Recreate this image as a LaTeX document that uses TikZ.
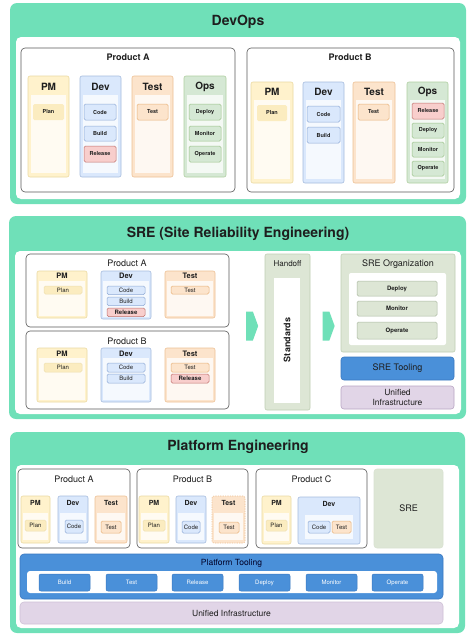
\documentclass[tikz,border=0pt]{standalone}
\usepackage{fontspec}
\setmainfont{TeX Gyre Heros}
\usetikzlibrary{shapes.arrows}
\definecolor{mint}{HTML}{6FE0B8}
\definecolor{pmF}{HTML}{FFF2CC}\definecolor{pmD}{HTML}{E3C97A}
\definecolor{devF}{HTML}{DAE8FC}\definecolor{devD}{HTML}{8FAAD6}
\definecolor{tstF}{HTML}{FCE4CC}\definecolor{tstD}{HTML}{E8B27A}
\definecolor{opsF}{HTML}{D5E8D4}\definecolor{opsD}{HTML}{9CC38A}
\definecolor{relF}{HTML}{F8CECC}\definecolor{relD}{HTML}{C0706C}
\definecolor{sreF}{HTML}{DDE6D5}\definecolor{sreD}{HTML}{BFCFB4}
\definecolor{toolF}{HTML}{4A90D9}\definecolor{toolD}{HTML}{3A78C0}
\definecolor{infF}{HTML}{E1D5E7}\definecolor{infD}{HTML}{B9A5C4}
\definecolor{ink}{HTML}{1E1E1E}
\newcommand\bx[7]{\node[#2,minimum width={(#5)-(#3)},minimum height={(#6)-(#4)}] (#1) at ({((#3)+(#5))/2},{((#4)+(#6))/2}) {#7};}
\newcommand\fs[1]{\fontsize{#1}{#1}\selectfont}
\tikzset{
  base/.style={inner sep=0pt,outer sep=0pt,text=ink,align=center},
  sec/.style={base,fill=mint,rounded corners=7pt},
  wbox/.style={base,fill=white,rounded corners=5pt},
  prod/.style={base,fill=white,draw=black!65,line width=0.6pt,rounded corners=4pt},
  colbox/.style={base,line width=0.6pt,rounded corners=2pt},
  pmcol/.style={colbox,fill=pmF,draw=pmD!70},
  devcol/.style={colbox,fill=devF,draw=devD!80},
  tstcol/.style={colbox,fill=tstF,draw=tstD!80},
  opscol/.style={colbox,fill=opsF,draw=opsD!80},
  colin/.style={base,fill=white,fill opacity=0.75},
  itm/.style={base,line width=0.5pt,rounded corners=1.5pt},
  pmI/.style={itm,fill=pmF!85!pmD,draw=pmD!60},
  devI/.style={itm,fill=devF,draw=devD},
  tstI/.style={itm,fill=tstF,draw=tstD},
  opsI/.style={itm,fill=opsF,draw=opsD},
  relI/.style={itm,fill=relF,draw=relD},
  sreI/.style={itm,fill=sreF,draw=sreD!90!black},
  toolI/.style={itm,fill=toolF,draw=toolD,text=white,rounded corners=2pt},
  secT/.style={base,font=\fs{14}\bfseries},
  hdA/.style={base,font=\fs{10}\bfseries},
  hdB/.style={base,font=\fs{7.5}\bfseries},
  hdC/.style={base,font=\fs{7}\bfseries},
  fA/.style={font=\fs{5.5}\bfseries},
  fB/.style={font=\fs{6}},
  fC/.style={font=\fs{6}},
  blk/.style={base,single arrow,fill=mint,single arrow head extend=0pt,single arrow tip angle=140},
}
\begin{document}
\begin{tikzpicture}[x=1pt,y=-1pt]
\useasboundingbox (0,0) rectangle (474,635);
%%%%%%%%%%%%%%%% DevOps
\bx{s1}{sec}{10}{3}{466}{204}{}
\node[secT] (s1t) at (238,22) {DevOps};
\bx{s1w}{wbox}{16}{37}{460}{199}{}
% Product A
\bx{dA}{prod}{21}{48}{235}{192}{}
\node[base,font=\fs{9}\bfseries] (dAt) at (128,57) {Product A};
\bx{dApm}{pmcol}{28}{76}{69}{177}{}
\bx{dApmw}{colin}{31}{95}{66}{173}{}
\node[hdA] (dApmh) at (48.5,87) {PM};
\bx{dAdev}{devcol}{80}{76}{121}{177}{}
\bx{dAdevw}{colin}{83}{95}{118}{173}{}
\node[hdA] (dAdevh) at (100.5,87) {Dev};
\bx{dAtst}{tstcol}{132}{76}{173}{177}{}
\bx{dAtstw}{colin}{135}{95}{170}{173}{}
\node[hdA] (dAtsth) at (152.5,87) {Test};
\bx{dAops}{opscol}{184}{76}{226}{177}{}
\bx{dAopsw}{colin}{187}{95}{223}{173}{}
\node[hdA] (dAopsh) at (205,87) {Ops};
\bx{dAplan}{pmI,fA,draw=none}{33}{104}{64}{120}{Plan}
\bx{dAcode}{devI,fA}{84}{104}{116}{120}{Code}
\bx{dAbuild}{devI,fA}{84}{126}{116}{141}{Build}
\bx{dArel}{relI,fA}{84}{146}{116}{162}{Release}
\bx{dAtest}{tstI,fA}{137}{104}{168}{120}{Test}
\bx{dAdep}{opsI,fA}{189}{104}{221}{120}{Deploy}
\bx{dAmon}{opsI,fA}{189}{126}{221}{141}{Monitor}
\bx{dAope}{opsI,fA}{189}{146}{221}{162}{Operate}
% Product B
\bx{dB}{prod}{247}{48}{454}{192}{}
\node[base,font=\fs{9}\bfseries] (dBt) at (350,57) {Product B};
\bx{dBpm}{pmcol}{251}{82}{293}{183}{}
\bx{dBpmw}{colin}{254}{100}{290}{179}{}
\node[hdA] (dBpmh) at (272,92) {PM};
\bx{dBdev}{devcol}{303}{82}{344}{183}{}
\bx{dBdevw}{colin}{306}{100}{341}{179}{}
\node[hdA] (dBdevh) at (323.5,92) {Dev};
\bx{dBtst}{tstcol}{353}{82}{395}{183}{}
\bx{dBtstw}{colin}{356}{100}{392}{179}{}
\node[hdA] (dBtsth) at (374,92) {Test};
\bx{dBops}{opscol}{407}{82}{448}{183}{}
\bx{dBopsw}{colin}{410}{100}{445}{179}{}
\node[hdA] (dBopsh) at (427.5,92) {Ops};
\bx{dBplan}{pmI,fA,draw=none}{257}{105}{287}{121}{Plan}
\bx{dBcode}{devI,fA}{307}{106}{340}{122}{Code}
\bx{dBbuild}{devI,fA}{307}{127}{340}{143}{Build}
\bx{dBtest}{tstI,fA}{358}{104}{389}{120}{Test}
\bx{dBrel}{relI,fA}{412}{103}{444}{119}{Release}
\bx{dBdep}{opsI,fA}{412}{123}{444}{138}{Deploy}
\bx{dBmon}{opsI,fA}{412}{142}{444}{157}{Monitor}
\bx{dBope}{opsI,fA}{412}{161}{444}{176}{Operate}
%%%%%%%%%%%%%%%% SRE
\bx{s2}{sec}{9}{216}{466}{419}{}
\node[secT] (s2t) at (238,234) {SRE (Site Reliability Engineering)};
\bx{s2w}{wbox}{15}{251}{461}{414}{}
% Product A
\bx{rA}{prod}{26}{254}{229}{327}{}
\node[base,font=\fs{9}] (rAt) at (127,263) {Product A};
\bx{rApm}{pmcol}{37}{271}{87}{318}{}
\bx{rApmw}{colin}{39}{281}{85}{316}{}
\node[hdB] (rApmh) at (62,276) {PM};
\bx{rAdev}{devcol}{101}{271}{151}{319}{}
\bx{rAdevw}{colin}{103}{281}{149}{317}{}
\node[hdB] (rAdevh) at (126,276) {Dev};
\bx{rAtst}{tstcol}{165}{271}{215}{318}{}
\bx{rAtstw}{colin}{167}{281}{213}{316}{}
\node[hdB] (rAtsth) at (190,276) {Test};
\bx{rAplan}{pmI,fB}{44}{286}{82}{294}{Plan}
\bx{rAcode}{devI,fB}{107}{286}{145}{294.5}{Code}
\bx{rAbuild}{devI,fB}{107}{297}{145}{305.5}{Build}
\bx{rArel}{relI,fB,font=\fs{6}\bfseries}{107}{308}{145}{316.5}{Release}
\bx{rAtest}{tstI,fB}{171}{286}{209}{294}{Test}
% Product B
\bx{rB}{prod}{26}{331}{229}{409}{}
\node[base,font=\fs{9}] (rBt) at (127,341) {Product B};
\bx{rBpm}{pmcol}{37}{348}{87}{402}{}
\bx{rBpmw}{colin}{39}{358}{85}{400}{}
\node[hdB] (rBpmh) at (62,354) {PM};
\bx{rBdev}{devcol}{101}{348}{151}{402}{}
\bx{rBdevw}{colin}{103}{358}{149}{400}{}
\node[hdB] (rBdevh) at (126,354) {Dev};
\bx{rBtst}{tstcol}{165}{348}{215}{402}{}
\bx{rBtstw}{colin}{167}{358}{213}{400}{}
\node[hdB] (rBtsth) at (190,354) {Test};
\bx{rBplan}{pmI,fB}{44}{363}{82}{372}{Plan}
\bx{rBcode}{devI,fB}{107}{363}{145}{372}{Code}
\bx{rBbuild}{devI,fB}{107}{374}{145}{383}{Build}
\bx{rBtest}{tstI,fB}{171}{363}{209}{372}{Test}
\bx{rBrel}{relI,fB,font=\fs{6}\bfseries}{171}{374}{209}{383}{Release}
% block arrows
\node[blk,minimum width=29,minimum height=12] (ar1) at (249.5,326) {};
\node[blk,minimum width=29,minimum height=12] (ar2) at (326,326) {};
% Handoff
\bx{hand}{colbox,fill=sreF,draw=sreD}{265}{254}{310}{410}{}
\node[base,font=\fs{8}] (handt) at (287.5,264) {Handoff};
\bx{handw}{base,fill=white}{274}{278}{300}{403}{}
\node[base,rotate=90,font=\fs{9}\bfseries] (std) at (287,340) {Standards};
% SRE Org
\bx{org}{colbox,fill=sreF,draw=sreD}{341}{254}{455}{352}{}
\node[base,font=\fs{9}] (orgt) at (398,264) {SRE Organization};
\bx{orgw}{base,fill=white,rounded corners=2pt}{349}{273}{446}{345}{}
\bx{odep}{sreI,font=\fs{6}\bfseries}{357}{281}{437}{296}{Deploy}
\bx{omon}{sreI,font=\fs{6}\bfseries}{357}{301}{437}{316}{Monitor}
\bx{oope}{sreI,font=\fs{6}\bfseries}{357}{322}{437}{339}{Operate}
\bx{srtool}{colbox,fill=toolF,draw=toolD,rounded corners=3pt,font=\fs{9}}{341}{357}{454}{380}{SRE Tooling}
\bx{srinf}{colbox,fill=infF,draw=infD,rounded corners=3pt,font=\fs{8.5}}{341}{386}{454}{409}{Unified\\[1pt]Infrastructure}
%%%%%%%%%%%%%%%% Platform
\bx{s3}{sec}{10}{432}{465}{633}{}
\node[secT] (s3t) at (238,447) {Platform Engineering};
\bx{s3w}{wbox}{16}{465}{459}{628}{}
% Product A
\bx{pA}{prod}{18}{469}{130}{548}{}
\node[base,font=\fs{9}] (pAt) at (74,479) {Product A};
\bx{pApm}{pmcol}{21}{496}{50}{543}{}
\bx{pApmw}{colin}{23}{513}{48}{540}{}
\node[hdC] (pApmh) at (35.5,503) {PM};
\bx{pAdev}{devcol}{58}{496}{88}{543}{}
\bx{pAdevw}{colin}{60}{513}{86}{540}{}
\node[hdC] (pAdevh) at (73,503) {Dev};
\bx{pAtst}{tstcol}{95}{496}{127}{543}{}
\bx{pAtstw}{colin}{97}{513}{125}{540}{}
\node[hdC] (pAtsth) at (111,503) {Test};
\bx{pAplan}{pmI,fC}{25}{520}{46}{531}{Plan}
\bx{pAcode}{devI,fC}{65}{520}{83}{533}{Code}
\bx{pAtest}{tstI,fC}{101}{521}{121}{533}{Test}
% Product B
\bx{pB}{prod}{137}{469}{248}{548}{}
\node[base,font=\fs{9}] (pBt) at (192.5,479) {Product B};
\bx{pBpm}{pmcol}{139}{496}{169}{543}{}
\bx{pBpmw}{colin}{141}{513}{167}{540}{}
\node[hdC] (pBpmh) at (154,503) {PM};
\bx{pBdev}{devcol}{176}{496}{206}{543}{}
\bx{pBdevw}{colin}{178}{513}{204}{540}{}
\node[hdC] (pBdevh) at (191,503) {Dev};
\bx{pBtst}{tstcol,dashed,dash pattern=on 1.2pt off 1.2pt}{212}{496}{245}{543}{}
\bx{pBtstw}{colin}{214}{513}{243}{540}{}
\node[hdC] (pBtsth) at (228.5,503) {Test};
\bx{pBplan}{pmI,fC}{143}{520}{165}{531}{Plan}
\bx{pBcode}{devI,fC}{182}{521}{200}{533}{Code}
\bx{pBtest}{tstI,fC}{219}{522}{239}{533}{Test}
% Product C
\bx{pC}{prod}{256}{469}{367}{548}{}
\node[base,font=\fs{9}] (pCt) at (311.5,479) {Product C};
\bx{pCpm}{pmcol}{262}{496}{291}{544}{}
\bx{pCpmw}{colin}{264}{513}{289}{541}{}
\node[hdC] (pCpmh) at (276.5,503) {PM};
\bx{pCdev}{devcol}{298}{497}{360}{544}{}
\bx{pCdevw}{colin}{305}{515}{353}{539}{}
\node[hdC] (pCdevh) at (329,504) {Dev};
\bx{pCplan}{pmI,fC}{266}{520}{287}{531}{Plan}
\bx{pCcode}{devI,fC}{308}{521}{330}{533}{Code}
\bx{pCtest}{tstI,fC}{332}{521}{351}{533}{Test}
% SRE
\bx{pSRE}{colbox,fill=sreF,draw=sreD!60,rounded corners=3pt,font=\fs{9}}{374}{469}{443}{548}{SRE}
% Platform tooling
\bx{ptool}{colbox,fill=toolF,draw=toolD,rounded corners=4pt}{20}{554}{443}{599}{}
\node[base,font=\fs{8.5},text=black!85!blue] (ptoolt) at (231.5,563) {Platform Tooling};
\bx{ptoolw}{base,fill=white,rounded corners=3pt}{27}{571}{437}{593}{}
\bx{tb1}{toolI,fC}{39}{574}{90}{591}{Build}
\bx{tb2}{toolI,fC}{106}{574}{157}{591}{Test}
\bx{tb3}{toolI,fC}{172}{574}{223}{591}{Release}
\bx{tb4}{toolI,fC}{239}{574}{290}{591}{Deploy}
\bx{tb5}{toolI,fC}{306}{574}{357}{591}{Monitor}
\bx{tb6}{toolI,fC}{372}{574}{423}{591}{Operate}
\bx{pinf}{colbox,fill=infF,draw=infD!70,rounded corners=4pt,font=\fs{8.5}}{20}{602}{443}{624}{Unified Infrastructure}
\end{tikzpicture}
\end{document}
